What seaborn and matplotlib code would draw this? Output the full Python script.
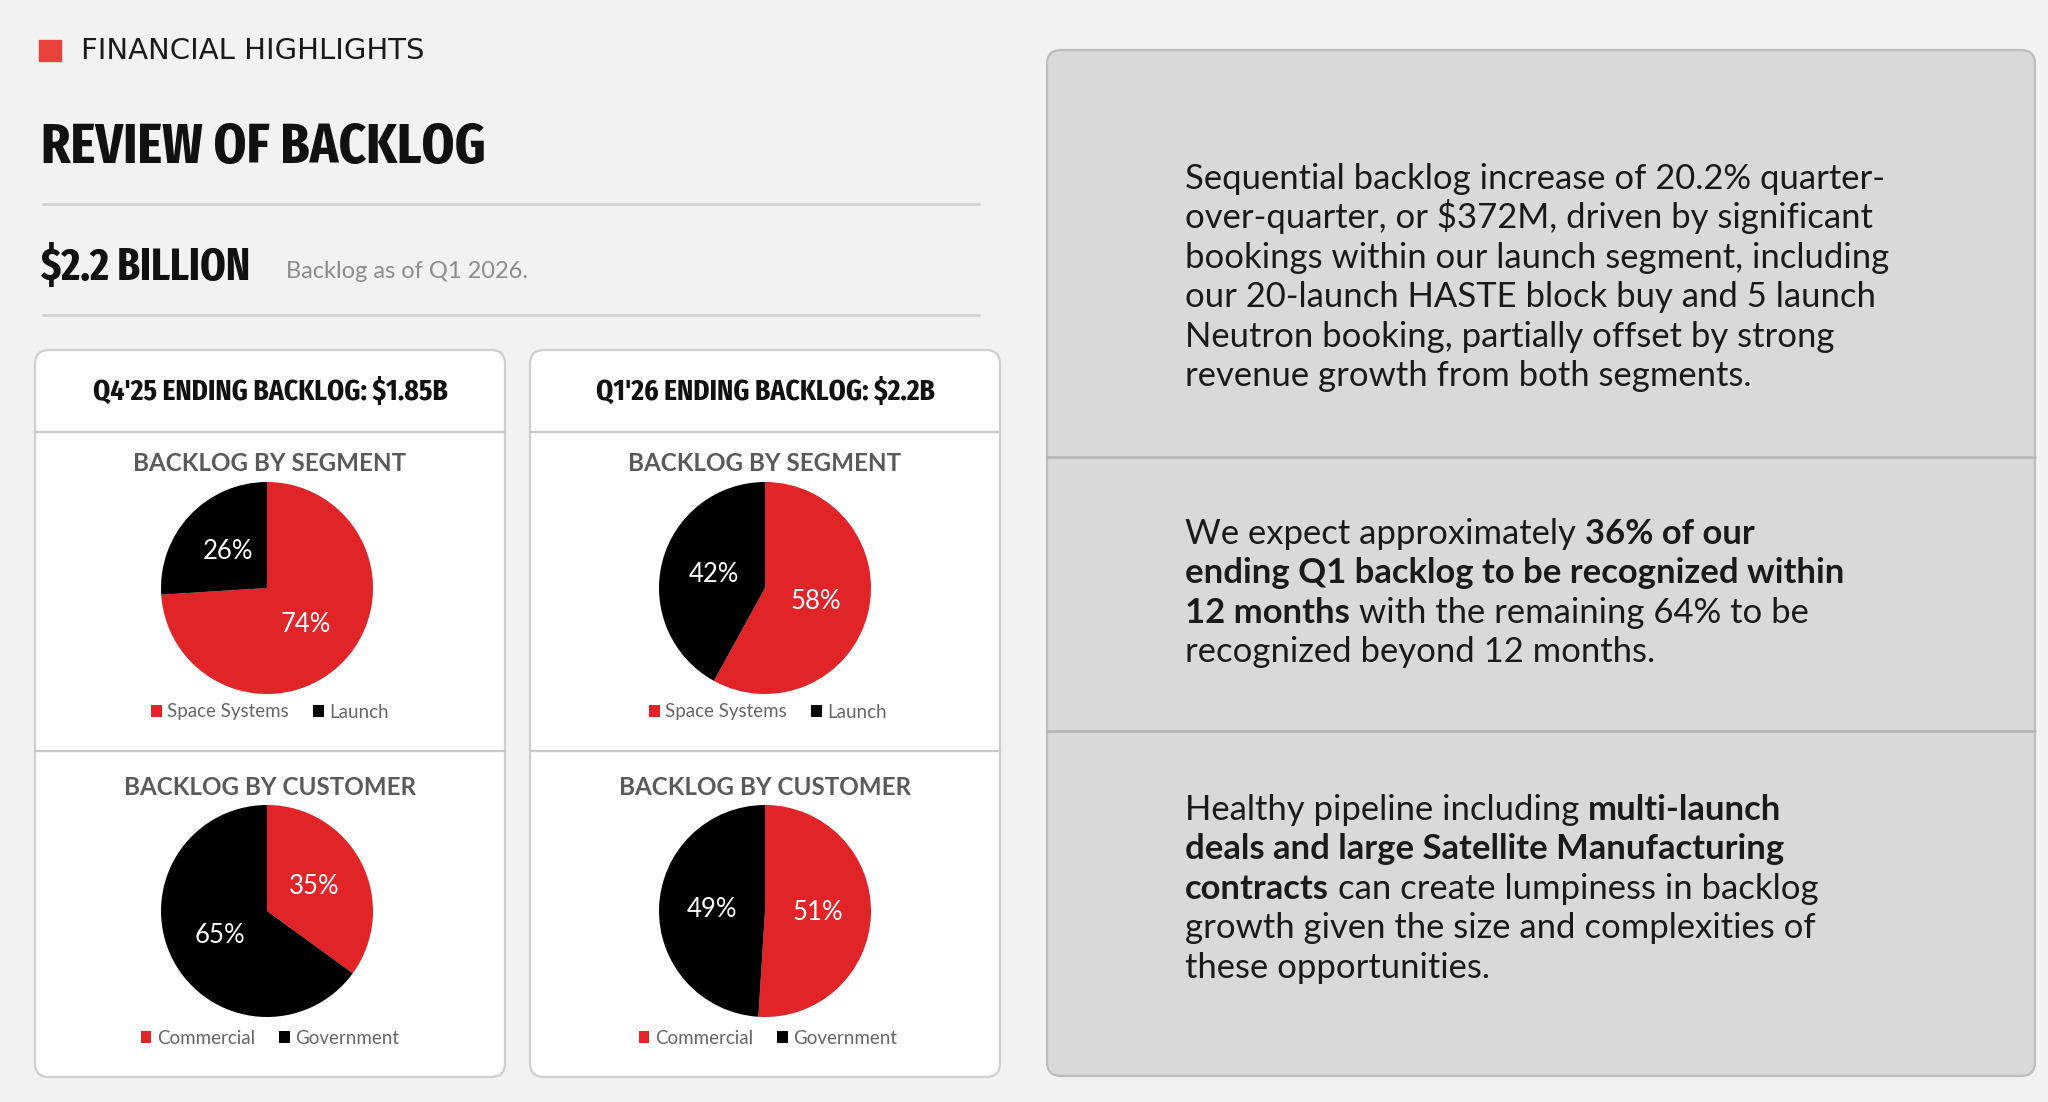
import numpy as np
import pandas as pd
import seaborn as sns
import matplotlib
matplotlib.use("Agg")
import matplotlib.pyplot as plt
from matplotlib import font_manager as fm
from matplotlib.patches import FancyBboxPatch, Rectangle

# ---------------- data ----------------
card_titles = ["Q4'25 ENDING BACKLOG: $1.85B", "Q1'26 ENDING BACKLOG: $2.2B"]
segment_labels = ["Space Systems", "Launch"]
segment_q4 = [74, 26]
segment_q1 = [58, 42]
customer_labels = ["Commercial", "Government"]
customer_q4 = [35, 65]
customer_q1 = [51, 49]

kicker = "FINANCIAL HIGHLIGHTS"
title = "REVIEW OF BACKLOG"
headline = "$2.2 BILLION"
headline_note = "Backlog as of Q1 2026."

box1_lines = [
    [("Sequential backlog increase of 20.2% quarter-", False)],
    [("over-quarter, or $372M, driven by significant", False)],
    [("bookings within our launch segment, including", False)],
    [("our 20-launch HASTE block buy and 5 launch", False)],
    [("Neutron booking, partially offset by strong", False)],
    [("revenue growth from both segments.", False)],
]
box2_lines = [
    [("We expect approximately", False), ("36% of our", True)],
    [("ending Q1 backlog to be recognized within", True)],
    [("12 months", True), ("with the remaining 64% to be", False)],
    [("recognized beyond 12 months.", False)],
]
box3_lines = [
    [("Healthy pipeline including", False), ("multi-launch", True)],
    [("deals and large Satellite Manufacturing", True)],
    [("contracts", True), ("can create lumpiness in backlog", False)],
    [("growth given the size and complexities of", False)],
    [("these opportunities.", False)],
]

# ---------------- style ----------------
W, H = 2048, 1102
sns.set_theme(style="white")
plt.rcParams["font.family"] = ["Lato", "DejaVu Sans"]
RED = "#E02427"
BLACK = "#000000"
pal = sns.color_palette([RED, BLACK])
BG = "#F2F2F2"


# pick the most condensed bold face that is installed
def _score(f):
    fn = f.fname.lower().replace("-", "").replace("_", "")
    if f.style != "normal" or "italic" in fn:
        return -1
    s = 0
    if "extracondensed" in fn:
        s += 4
    elif "semicondensed" in fn:
        s += 1
    elif "condensed" in fn or "narrow" in fn:
        s += 3
    else:
        return -1
    w = f.weight if isinstance(f.weight, (int, float)) else {"bold": 700}.get(f.weight, 400)
    if "extrabold" in fn or "black" in fn:
        s += 0.5
    elif "semibold" in fn:
        s += 0.6
    elif w == 700 or "bold" in fn:
        s += 1
    else:
        s += 0
    return s


cands = sorted([f for f in fm.fontManager.ttflist if _score(f) >= 0], key=_score, reverse=True)
if cands and _score(cands[0]) >= 3.5:
    COND = dict(fontproperties=fm.FontProperties(fname=cands[0].fname))
else:
    COND = dict(family="DejaVu Sans", fontweight="bold")

fig = plt.figure(figsize=(W / 100, H / 100), dpi=100, facecolor=BG)
bg = fig.add_axes([0, 0, 1, 1])
bg.set_xlim(0, W)
bg.set_ylim(H, 0)
bg.axis("off")
bg.set_facecolor(BG)
renderer = fig.canvas.get_renderer()


def measure(s, size, **kw):
    t = bg.text(0, 0, s, **kw)
    t.set_fontsize(size)
    w = t.get_window_extent(renderer=renderer).width
    t.remove()
    return w


def fit(s, target, **kw):
    return 20 * target / measure(s, 20, **kw)


def put(x, y, s, size, **kw):
    t = bg.text(x, y, s, **kw)
    t.set_fontsize(size)
    return t


# ---------------- header ----------------
bg.add_patch(Rectangle((39, 40), 22, 21, color="#E8403A", zorder=2))
kw_k = dict(family="DejaVu Sans", color="#1a1a1a", va="baseline", ha="left")
put(81, 59, kicker, min(fit(kicker, 370, **kw_k), 21), **kw_k)

kw_t = dict(color="#111111", va="baseline", ha="left", **COND)
put(41, 163, title, fit(title, 443, **kw_t), **kw_t)
for yy in (204, 315):
    bg.plot([42, 980], [yy, yy], color="#D3D3D3", lw=2, solid_capstyle="butt")
put(41, 280, headline, fit(headline, 209, **kw_t), **kw_t)
bg.text(286, 278, headline_note, fontsize=17, color="#8C8C8C", va="baseline", ha="left")

# ---------------- cards ----------------
cards_x = [(35, 505), (530, 1000)]
card_top, card_bot = 350, 1077
kw_c = dict(color="#111111", ha="center", va="baseline", **COND)
card_size = fit(card_titles[0], 354, **kw_c)
for (x0, x1), ttl in zip(cards_x, card_titles):
    bg.add_patch(FancyBboxPatch((x0, card_top), x1 - x0, card_bot - card_top,
                                boxstyle="round,pad=0,rounding_size=14",
                                fc="white", ec="#CFCFCF", lw=1.6, zorder=1))
    bg.plot([x0, x1], [432, 432], color="#C8C8C8", lw=1.6, zorder=2)
    bg.plot([x0, x1], [751, 751], color="#C8C8C8", lw=1.6, zorder=2)
    cx = (x0 + x1) / 2
    put(cx, 400, ttl, card_size, **kw_c)
    bg.text(cx, 471, "BACKLOG BY SEGMENT", fontsize=17.4, fontweight="bold",
            color="#5A5A5A", ha="center", va="baseline")
    bg.text(cx, 795, "BACKLOG BY CUSTOMER", fontsize=17.4, fontweight="bold",
            color="#5A5A5A", ha="center", va="baseline")

# ---------------- pies ----------------
R = 106
pie_specs = [
    (267, 588, segment_q4, segment_labels, 712),
    (267, 911, customer_q4, customer_labels, 1038),
    (765, 588, segment_q1, segment_labels, 712),
    (765, 911, customer_q1, customer_labels, 1038),
]
for cx, cy, vals, labs, ly in pie_specs:
    df = pd.DataFrame({"label": labs, "value": vals})
    ax = fig.add_axes([(cx - R) / W, 1 - (cy + R) / H, 2 * R / W, 2 * R / H])
    ax.pie(df["value"], colors=pal, startangle=90, counterclock=False,
           autopct="%.0f%%", pctdistance=0.5, radius=1,
           wedgeprops=dict(linewidth=0),
           textprops=dict(color="white", fontsize=18.5))
    ax.set_xlim(-1, 1)
    ax.set_ylim(-1, 1)
    ax.set_aspect("equal")
    ax.axis("off")
    handles = [Rectangle((0, 0), 1, 1, fc=c, ec="none") for c in pal]
    fig.legend(handles, df["label"].tolist(), loc="center",
               bbox_to_anchor=((cx + 3) / W, 1 - ly / H),
               ncol=2, frameon=False, fontsize=13.5, handlelength=0.55, handleheight=0.55,
               handletextpad=0.3, columnspacing=1.3, labelcolor="#666666")

# ---------------- right panel ----------------
px0, px1, py0, py1 = 1047, 2035, 50, 1076
bg.add_patch(FancyBboxPatch((px0, py0), px1 - px0, py1 - py0,
                            boxstyle="round,pad=0,rounding_size=14",
                            fc="#D9D9D9", ec="#BDBDBD", lw=1.6, zorder=1))
for yy in (457, 731):
    bg.plot([px0, px1], [yy, yy], color="#B5B5B5", lw=1.8, zorder=2)

BODY = min(fit(box1_lines[0][0][0], 700), 26)
space_w = measure("a a", BODY) - measure("aa", BODY)


def rich_block(lines, x, y0, step):
    for i, segs in enumerate(lines):
        x_cur = x
        y = y0 + i * step
        for txt, bold in segs:
            t = bg.text(x_cur, y, txt, color="#1A1A1A",
                        fontweight="bold" if bold else "normal",
                        ha="left", va="baseline", zorder=3)
            t.set_fontsize(BODY)
            x_cur += t.get_window_extent(renderer=renderer).width + space_w


TX = 1185
STEP = 39.4
rich_block(box1_lines, TX, 189, STEP)
rich_block(box2_lines, TX, 544, STEP)
rich_block(box3_lines, TX, 820, STEP)

fig.savefig("out.png", dpi=100, facecolor=BG)
